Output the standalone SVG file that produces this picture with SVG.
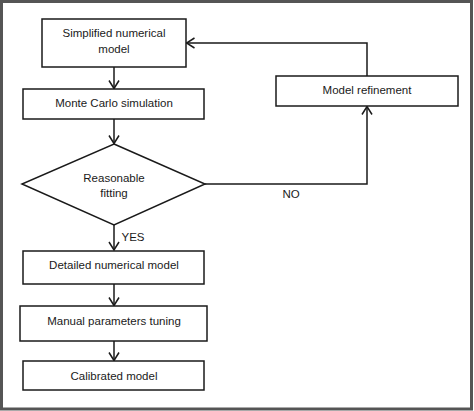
<svg xmlns="http://www.w3.org/2000/svg" width="474" height="411" viewBox="0 0 474 411">
<defs>
<style>
.box{fill:#fff;stroke:#1a1a1a;stroke-width:1.5}
.ln{fill:none;stroke:#1a1a1a;stroke-width:1.5}
.t{font-family:"Liberation Sans",Arial,sans-serif;font-size:11.5px;fill:#1a1a1a;text-anchor:middle}
</style>
<marker id="arr" viewBox="0 0 10 12" refX="9" refY="6" markerWidth="10" markerHeight="12" markerUnits="userSpaceOnUse" orient="auto">
<path d="M1,1 L9,6 L1,11" fill="none" stroke="#1a1a1a" stroke-width="1.5"/>
</marker>
</defs>
<rect x="0" y="0" width="474" height="411" fill="#fff"/>
<rect x="1.5" y="1.5" width="470" height="407.5" fill="none" stroke="#555" stroke-width="3"/>
<g id="connectors">
<line class="ln" x1="114" y1="67" x2="114" y2="88.5" marker-end="url(#arr)"/>
<line class="ln" x1="114" y1="119" x2="114" y2="143.5" marker-end="url(#arr)"/>
<line class="ln" x1="114" y1="225" x2="114" y2="250" marker-end="url(#arr)"/>
<line class="ln" x1="114" y1="284" x2="114" y2="305.5" marker-end="url(#arr)"/>
<line class="ln" x1="114" y1="341" x2="114" y2="360.5" marker-end="url(#arr)"/>
<polyline class="ln" points="205,184 367,184 367,106.5" marker-end="url(#arr)"/>
<polyline class="ln" points="367,76 367,43 186.5,43" marker-end="url(#arr)"/>
<text class="t" x="291" y="198">NO</text>
<text class="t" x="133" y="241">YES</text>
</g>
<g id="simplified">
<rect class="box" x="42" y="19" width="144" height="48"/>
<text class="t" x="114" y="37">Simplified numerical</text>
<text class="t" x="114" y="53">model</text>
</g>
<g id="montecarlo">
<rect class="box" x="23" y="89" width="181" height="30"/>
<text class="t" x="114" y="107">Monte Carlo simulation</text>
</g>
<g id="decision">
<polygon class="box" points="114,144 205,184 114,225 22,184"/>
<text class="t" x="114" y="182">Reasonable</text>
<text class="t" x="114" y="197">fitting</text>
</g>
<g id="refinement">
<rect class="box" x="276" y="76" width="182" height="30"/>
<text class="t" x="367" y="94">Model refinement</text>
</g>
<g id="detailed">
<rect class="box" x="23" y="251" width="181" height="33"/>
<text class="t" x="114" y="269">Detailed numerical model</text>
</g>
<g id="manual">
<rect class="box" x="20" y="306" width="187" height="35"/>
<text class="t" x="114" y="325">Manual parameters tuning</text>
</g>
<g id="calibrated">
<rect class="box" x="23" y="361" width="181" height="29"/>
<text class="t" x="114" y="380">Calibrated model</text>
</g>
</svg>
